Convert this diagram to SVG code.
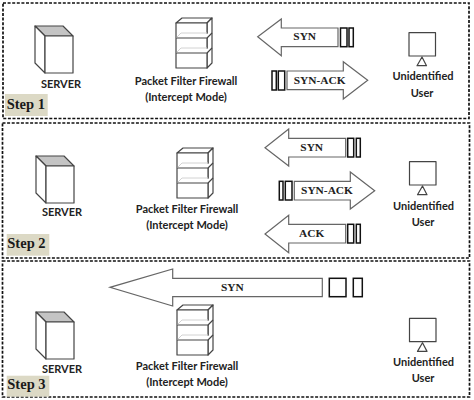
<svg xmlns="http://www.w3.org/2000/svg" width="474" height="400" viewBox="0 0 474 400">
<style>
.panel{fill:none;stroke:#111;stroke-width:1.7;stroke-dasharray:3 1.6}
.ln{fill:#fff;stroke:#444;stroke-width:1.2;stroke-linejoin:round}
.top{fill:#c4c4c4;stroke:#444;stroke-width:1.2;stroke-linejoin:round}
.glass{fill:none;stroke:#d2d2d2;stroke-width:1}
.arrow{fill:#fff;stroke:#666;stroke-width:1.2;stroke-linejoin:miter}
.bar{fill:#fff;stroke:#111;stroke-width:1.5}
.lab{font-family:Lato,"Liberation Sans",sans-serif;font-weight:700;font-size:11px;fill:#222;text-anchor:middle}
.pkt{font-family:"Liberation Serif",serif;font-weight:700;font-size:11.4px;fill:#222;text-anchor:middle}
.step{font-family:"Liberation Serif",serif;font-weight:700;font-size:14.5px;fill:#1a1a1a}
.tag{fill:#dcd9c5}
</style>
<defs>
<g id="srv">
<path class="top" d="M35 26H63L73 36H45Z"/>
<path class="ln" d="M35 26L45 36V73L35 63Z"/>
<rect class="ln" x="45" y="36" width="28" height="37"/>
</g>
<g id="fw">
<path class="ln" d="M176 23L182 18H212L207 23Z"/>
<path class="ln" d="M207 23L212 18V63L207 68Z"/>
<rect class="ln" x="176" y="23" width="31" height="45"/>
<path class="glass" d="M176 38L181 33H207M176 53L181 48H207"/>
<path class="ln" d="M176 38H207L212 33M176 53H207L212 48"/>
</g>
<g id="usr">
<rect class="ln" x="409" y="32.7" width="26.5" height="23.3"/>
<path class="ln" d="M422 57L426.5 65.7H417Z"/>
</g>
</defs>
<rect width="474" height="400" fill="#fff"/>
<g id="panels">
<rect class="panel" x="3" y="3" width="466" height="115.5"/>
<rect class="panel" x="2.5" y="123" width="467" height="135"/>
<rect class="panel" x="2.5" y="261" width="467" height="136"/>
</g>
<g id="connectors">
<path class="arrow" d="M338 28H281.3V19L257.7 36.7L281.3 55.7V46.7H338Z"/>
<rect class="bar" x="340.5" y="28" width="6.5" height="18.7"/>
<rect class="bar" x="349" y="28" width="4.3" height="18.7"/>
<path class="arrow" d="M287 71H343.3V61.7L367.7 80.3L343.3 99V89.7H287Z"/>
<rect class="bar" x="272" y="71" width="4.3" height="19"/>
<rect class="bar" x="278.3" y="71" width="6.4" height="19"/>
<path class="arrow" d="M345.7 138.3H288.7V129L265 147.7L288.7 166V157H345.7Z"/>
<rect class="bar" x="347.7" y="138.3" width="6" height="18.7"/>
<rect class="bar" x="356.3" y="138.3" width="4" height="18.7"/>
<path class="arrow" d="M294.3 181.3H350.3V172L374.7 190.7L350.3 209V200H294.3Z"/>
<rect class="bar" x="279.3" y="181.3" width="3.7" height="18.7"/>
<rect class="bar" x="285.3" y="181.3" width="6.7" height="18.7"/>
<path class="arrow" d="M345.7 224.3H288.7V215.3L265 234L288.7 252.7V243H345.7Z"/>
<rect class="bar" x="347.7" y="224.3" width="6" height="18.7"/>
<rect class="bar" x="356.3" y="224.3" width="4" height="18.7"/>
<path class="arrow" d="M322.3 278.3H172.7V269L110 287.3L172.7 306V296.7H322.3Z"/>
<rect class="bar" x="329.3" y="278.3" width="16.7" height="18.4"/>
<rect class="bar" x="353.3" y="278.3" width="9" height="18.4"/>
<text class="pkt" x="304.7" y="40">SYN</text>
<text class="pkt" x="319.7" y="84.3">SYN-ACK</text>
<text class="pkt" x="311.7" y="150.7">SYN</text>
<text class="pkt" x="327" y="194">SYN-ACK</text>
<text class="pkt" x="311.7" y="237.3">ACK</text>
<text class="pkt" x="232.3" y="291">SYN</text>
</g>
<g id="server-1"><use href="#srv"/><text class="lab" x="61" y="87.7">SERVER</text></g>
<g id="firewall-1"><use href="#fw"/><text class="lab" x="186" y="84.5">Packet Filter Firewall</text><text class="lab" x="186" y="101">(Intercept Mode)</text></g>
<g id="user-1"><use href="#usr"/><text class="lab" x="423" y="80">Unidentified</text><text class="lab" x="422" y="96.7">User</text></g>
<g id="step-1"><rect class="tag" x="5" y="94" width="42.7" height="22"/><text class="step" x="6.7" y="108.5">Step 1</text></g>
<g id="server-2"><use href="#srv" transform="translate(1 130)"/><text class="lab" x="62" y="216">SERVER</text></g>
<g id="firewall-2"><use href="#fw" transform="translate(1 130)"/><text class="lab" x="187" y="213">Packet Filter Firewall</text><text class="lab" x="187" y="229">(Intercept Mode)</text></g>
<g id="user-2"><use href="#usr" transform="translate(0.5 129)"/><text class="lab" x="423.5" y="209.7">Unidentified</text><text class="lab" x="423" y="225.7">User</text></g>
<g id="step-2"><rect class="tag" x="6.7" y="234" width="42.6" height="21.7"/><text class="step" x="7.3" y="248">Step 2</text></g>
<g id="server-3"><use href="#srv" transform="translate(1 286)"/><text class="lab" x="62" y="373">SERVER</text></g>
<g id="firewall-3"><use href="#fw" transform="translate(1 287)"/><text class="lab" x="187" y="370">Packet Filter Firewall</text><text class="lab" x="187" y="386">(Intercept Mode)</text></g>
<g id="user-3"><use href="#usr" transform="translate(0.5 285.7)"/><text class="lab" x="423.5" y="366">Unidentified</text><text class="lab" x="423" y="382">User</text></g>
<g id="step-3"><rect class="tag" x="6.7" y="375.7" width="42.6" height="21"/><text class="step" x="7.3" y="389.3">Step 3</text></g>
</svg>
